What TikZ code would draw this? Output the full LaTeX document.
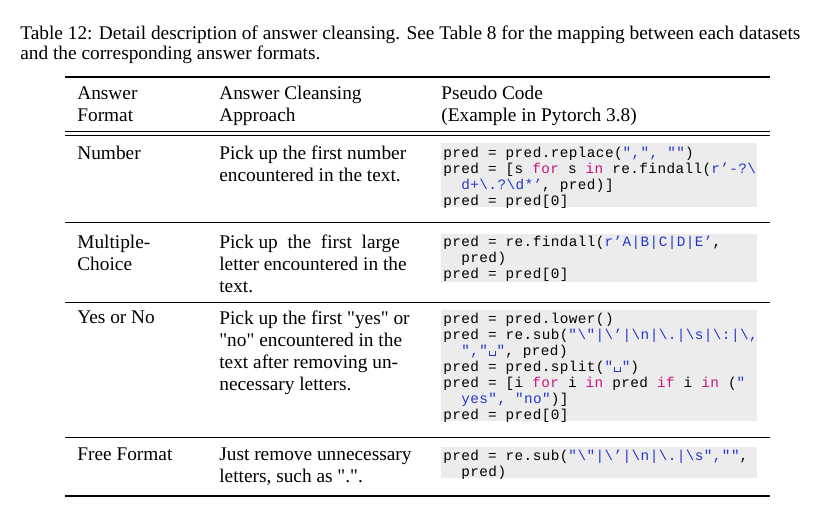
\documentclass[tikz,border=0pt]{standalone}
\usepackage{fontspec}
\setmainfont{Liberation Serif}
\newfontfamily\codefont[LetterSpace=3]{Liberation Mono}
\usetikzlibrary{positioning}
\definecolor{codebg}{RGB}{236,236,236}
\definecolor{codekw}{RGB}{205,20,120}
\definecolor{codestr}{RGB}{35,55,205}
\newcommand{\kw}[1]{\textcolor{codekw}{#1}}
\newcommand{\str}[1]{\textcolor{codestr}{#1}}
\newcommand{\bs}{\textbackslash}
\newcommand{\vsp}{\makebox[0.6em]{\rule{0.05em}{0.3em}\rule{0.4em}{0.05em}\rule{0.05em}{0.3em}}}
\tikzset{
  cell/.style={anchor=north west, inner sep=0pt, align=left, font=\fontsize{11.6}{13.2}\selectfont},
  code/.style={anchor=north west, inner sep=0pt, align=left, font=\codefont\fontsize{8.6}{9.6}\selectfont},
  codebox/.style={fill=codebg, draw=none},
  rule/.style={line width=0.5pt},
  toprule/.style={line width=0.9pt}
}
\begin{document}
\begin{tikzpicture}[x=0.6pt, y=-0.6pt]
    \useasboundingbox (0, 0) rectangle (833, 517);
    % caption
    \node[cell] (cap1) at (20, 26) {Table 12: Detail description of answer cleansing. See Table 8 for the mapping between each datasets};
    \node[cell] (cap2) at (20, 46) {and the corresponding answer formats.};
    % rules
    \draw[toprule] (65, 77) -- (770, 77);
    \draw[rule] (65, 131) -- (770, 131);
    \draw[rule] (65, 135) -- (770, 135);
    \draw[rule] (65, 222) -- (770, 222);
    \draw[rule] (65, 302) -- (770, 302);
    \draw[rule] (65, 437) -- (770, 437);
    \draw[toprule] (65, 496) -- (770, 496);
    % header
    \node[cell] (h1) at (77, 86) {Answer\\Format};
    \node[cell] (h2) at (219, 86) {Answer Cleansing\\Approach};
    \node[cell] (h3) at (441, 86) {Pseudo Code\\(Example in Pytorch 3.8)};
    % code backgrounds
    \fill[codebox] (441, 143) rectangle (757, 207);
    \fill[codebox] (441, 234) rectangle (757, 282);
    \fill[codebox] (441, 310) rectangle (757, 421);
    \fill[codebox] (441, 447) rectangle (757, 478);
    % number
    \node[cell] (num) at (77, 146) {Number};
    \node[cell] (numtxt) at (219, 146) {Pick up the first number\\encountered in the text.};
    \node[code] (numcode) at (443, 147) {pred = pred.replace(\str{",", ""})\\
      pred = [s \kw{for} s \kw{in} re.findall(\str{r\textquoteright-?\bs}\\
      \ \ \str{d+\bs.?\bs d*\textquoteright}, pred)]\\
      pred = pred[0]};
    % multiple choice
    \node[cell] (mc) at (77, 235) {Multiple-\\Choice};
    \node[cell] (mctxt) at (219, 235) {Pick up\ \ the\ \ first\ \ large\\letter encountered in the\\text.};
    \node[code] (mccode) at (443, 236) {pred = re.findall(\str{r\textquoteright A|B|C|D|E\textquoteright},\\
      \ \ pred)\\
      pred = pred[0]};
    % yes or no
    \node[cell] (yn) at (77, 311) {Yes or No};
    \node[cell] (yntxt) at (219, 311) {Pick up the first \textquotedbl yes\textquotedbl{} or\\\textquotedbl no\textquotedbl{} encountered in the\\text after removing un-\\necessary letters.};
    \node[code] (yncode) at (443, 313) {pred = pred.lower()\\
      pred = re.sub(\str{"\bs"|\bs\textquoteright|\bs n|\bs.|\bs s|\bs:|\bs,}\\
      \ \ \str{","\vsp"}, pred)\\
      pred = pred.split(\str{"\vsp"})\\
      pred = [i \kw{for} i \kw{in} pred \kw{if} i \kw{in} (\str{"}\\
      \ \ \str{yes", "no"})]\\
      pred = pred[0]};
    % free format
    \node[cell] (ff) at (77, 448) {Free Format};
    \node[cell] (fftxt) at (219, 448) {Just remove unnecessary\\letters, such as \textquotedbl.\textquotedbl.};
    \node[code] (ffcode) at (443, 450) {pred = re.sub(\str{"\bs"|\bs\textquoteright|\bs n|\bs.|\bs s",""},\\
      \ \ pred)};
\end{tikzpicture}
\end{document}
